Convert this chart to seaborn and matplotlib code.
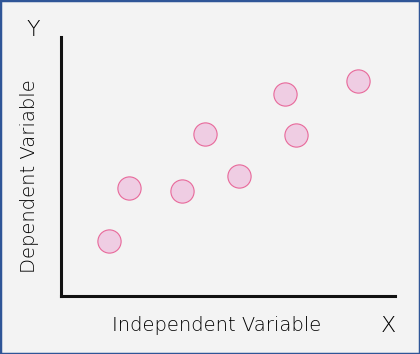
import matplotlib
matplotlib.use("Agg")
import matplotlib.pyplot as plt
import seaborn as sns
import pandas as pd
from matplotlib.patches import Rectangle

x_vals = [1.44, 2.04, 3.62, 4.31, 5.33, 6.71, 7.04, 8.89]
y_vals = [2.12, 4.17, 4.05, 6.25, 4.63, 7.80, 6.22, 8.30]
x_label = "Independent Variable"
y_label = "Dependent Variable"

df = pd.DataFrame({"x": x_vals, "y": y_vals})

sns.set_theme(style="white")
plt.rcParams['font.family'] = ['DejaVu Sans']

fig = plt.figure(figsize=(4.2, 3.54), dpi=100)
bg = "#f3f3f3"
fig.patch.set_facecolor(bg)
ax = fig.add_axes([61/420, 58/354, 334/420, 259/354])
ax.set_facecolor(bg)

sns.scatterplot(data=df, x="x", y="y", ax=ax, s=280, color="#efcde3",
                edgecolor="#e8689a", linewidth=0.8, zorder=3)

ax.set_xlim(0, 10)
ax.set_ylim(0, 10)
ax.set_xticks([])
ax.set_yticks([])
ax.set_xlabel("")
ax.set_ylabel("")
for s in ["top", "right"]:
    ax.spines[s].set_visible(False)
for s in ["left", "bottom"]:
    ax.spines[s].set_linewidth(2.2)
    ax.spines[s].set_color("#111111")
    ax.spines[s].set_capstyle("projecting")

tc = "#000000"
fig.text(216.5/420, 1 - 331/354, x_label, ha="center", va="baseline", fontsize=14,
         color=tc, fontweight="light")
fig.text(30/420, 1 - 176/354, y_label, ha="center", va="center", rotation=90,
         fontsize=14, color=tc, fontweight="light")
fig.text(388/420, 1 - 332/354, "X", ha="center", va="baseline", fontsize=16, color=tc,
         fontweight="light")
fig.text(33/420, 1 - 36/354, "Y", ha="center", va="baseline", fontsize=16, color=tc,
         fontweight="light")

fig.patches.append(Rectangle((0, 0), 1, 1, transform=fig.transFigure, fill=False,
                             edgecolor="#2f5597", linewidth=2.5, zorder=10))

fig.savefig("out.png", dpi=100, facecolor=bg)
